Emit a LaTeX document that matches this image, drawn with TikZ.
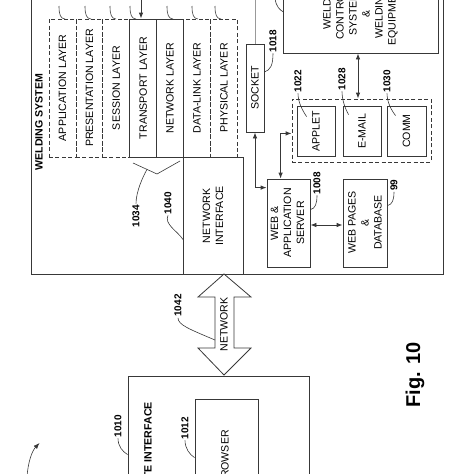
\documentclass[tikz,border=0pt]{standalone}
\usepackage{fontspec}
\setmainfont{Liberation Sans}
\usetikzlibrary{arrows.meta}
\begin{document}
\begin{tikzpicture}[x=1pt,y=-1pt,
  ln/.style={draw=black!78, line width=0.8pt},
  box/.style={ln, inner sep=0pt, minimum width=#1},
  dbox/.style={box=#1, dash pattern=on 4pt off 2.4pt},
  txt/.style={rotate=90, font=\fontsize{10.6}{13}\selectfont, align=center, inner sep=0pt},
  btxt/.style={rotate=90, font=\fontsize{10.6}{12}\selectfont\bfseries, inner sep=0pt},
  num/.style={rotate=90, font=\fontsize{10}{11}\selectfont\bfseries, inner sep=1pt},
  lead/.style={draw=black!78, line width=0.6pt},
  tip/.style={-{Latex[length=6pt,width=4.5pt]}},
  dbl/.style={ln, {Latex[length=6pt,width=4.5pt]}-{Latex[length=6pt,width=4.5pt]}}
]
\useasboundingbox (0,0) rectangle (474,474);
\clip (0,0) rectangle (474,474);

% welding system
\node[box=412pt, minimum height=314pt] (ws) at (237,117) {};
\node[btxt] (wst) at (39,122) {WELDING SYSTEM};

% layer stack
\node[dbox=26.9pt, minimum height=138pt] (l1) at (62.45,88) {};
\node[dbox=26.9pt, minimum height=138pt] (l2) at (89.35,88) {};
\node[dbox=26.9pt, minimum height=138pt] (l3) at (116.25,88) {};
\node[dbox=26.9pt, minimum height=138pt] (l6) at (196.95,88) {};
\node[dbox=26.9pt, minimum height=138pt] (l7) at (223.85,88) {};
\node[box=26.9pt, minimum height=138pt] (l4) at (143.15,88) {};
\node[box=26.9pt, minimum height=138pt] (l5) at (170.05,88) {};
\node[txt] (t1) at (l1.center) {APPLICATION LAYER};
\node[txt] (t2) at (l2.center) {PRESENTATION LAYER};
\node[txt] (t3) at (l3.center) {SESSION LAYER};
\node[txt] (t4) at (l4.center) {TRANSPORT LAYER};
\node[txt] (t5) at (l5.center) {NETWORK LAYER};
\node[txt] (t6) at (l6.center) {DATA-LINK LAYER};
\node[txt] (t7) at (l7.center) {PHYSICAL LAYER};

% leaders above layers
\foreach \b in {59,85,110,130,167,192,215}{
  \draw[lead] (\b,6) .. controls (\b,15) and (\b+1.5,18.5) .. (\b+6,19);
}
\coordinate (ta) at (141,-5);
\draw[ln, tip] (ta) -- (ta |- l4.north);

% bracket under transport/network
\coordinate (v1) at (133,163);
\coordinate (v2) at (157,174);
\coordinate (v3) at (180,161);
\coordinate (v4) at (147,169.4);
\draw[lead] (v1) -- (v2) -- (v3);
\node[num] (n1034) at (136,216) {1034};
\draw[lead] (n1034.east) .. controls +(0,-12) and +(-4,7) .. (v4);

% network interface
\node[box=59.5pt, minimum height=117pt] (ni) at (213.25,215.5) {};
\node[txt] (nit) at (213,216) {NETWORK\\INTERFACE};
\node[num] (n1040) at (168,203) {1040};
\draw[lead] (n1040.west) .. controls +(-4,9) and +(-6,-9) .. ([yshift=-83pt]ni.north west);

% socket
\node[box=18pt, minimum height=88pt] (sock) at (255,88) {};
\node[txt] (sockt) at (sock.center) {SOCKET};
\draw[draw=black!40, line width=0.5pt] (sock.north) -- ++(0,-50);
\node[num] (n1018) at (273,41) {1018};
\draw[lead] (n1018.west) .. controls +(0,12) and +(6,-2) .. ([yshift=16pt]sock.east);

% welding control system
\node[box=155pt, minimum height=93pt] (wc) at (360.5,6.5) {};
\node[txt] (wct) at (360.5,14) {WELD\\CONTROL\\SYSTEM\\\&\\WELDING\\EQUIPMENT};
\coordinate (wcl0) at (275,-2);
\coordinate (wcl) at (283.5,12);
\draw[lead] (wcl0) .. controls (276,7) and (280,10) .. (wcl);

% applet / e-mail / comm
\node[dbox=139pt, minimum height=63pt] (grp) at (361.5,130.5) {};
\node[box=38pt, minimum height=50pt] (applet) at (316,131) {};
\node[box=38pt, minimum height=50pt] (email) at (362,131) {};
\node[box=39pt, minimum height=50pt] (comm) at (406.5,131) {};
\node[txt] (appt) at (applet.center) {APPLET};
\node[txt] (emt) at (email.center) {E-MAIL};
\node[txt] (comt) at (comm.center) {COMM};
\node[num] (n1022) at (298,81) {1022};
\node[num] (n1028) at (342,79) {1028};
\node[num] (n1030) at (387,81) {1030};
\draw[lead] (n1022.west) .. controls +(0,9) and +(-4,-6) .. ([xshift=10pt,yshift=-11pt]applet.north west);
\draw[lead] (n1028.west) .. controls +(0,9) and +(-3,-5) .. ([xshift=6pt,yshift=-9pt]email.north west);
\draw[lead] (n1030.west) .. controls +(0,9) and +(-4,-5) .. ([xshift=9pt,yshift=-10pt]comm.north west);
\draw[dbl] ([xshift=-2.5pt]wc.south) -- ([xshift=-2.5pt]wc.south |- grp.north);

% server and database
\node[box=43pt, minimum height=88pt] (srv) at (288.5,223) {};
\node[txt] (srvt) at (287.5,223) {WEB \&\\APPLICATION\\SERVER};
\node[box=44pt, minimum height=88pt] (db) at (365,223) {};
\node[txt] (dbt) at (365,222.5) {WEB PAGES\\\&\\DATABASE};
\node[num] (n1008) at (317,183) {1008};
\node[num] (n99) at (394,185) {99};
\draw[lead] (n1008.west) .. controls +(0,8) and +(5,-1) .. ([yshift=-31pt]srv.north east);
\draw[lead] (n99.west) .. controls +(0,8) and +(5,-1) .. ([yshift=-27pt]db.north east);
\draw[dbl] ([yshift=-2pt]srv.east) -- ([yshift=-2pt]db.west);
\draw[dbl] (sock.south) |- ([yshift=-9pt]srv.north west);
\draw[dbl] ([xshift=14pt]srv.north west) |- ([yshift=29pt]grp.south west);

% network double arrow
\draw[ln] (224,274) -- (251,297) -- (234,297) -- (234,348) -- (251,348) -- (224,375)
  -- (198,348) -- (215,348) -- (215,297) -- (198,297) -- cycle;
\node[txt] (nett) at (224,324.5) {NETWORK};
\coordinate (nshaft) at (215,340);
\node[num] (n1042) at (178,305.5) {1042};
\draw[lead] (n1042.west) .. controls +(0,7) and +(-26,-11) .. (nshaft);

% remote interface
\node[box=181pt, minimum height=124pt] (ui) at (218.5,438) {};
\node[btxt, anchor=east] (uit) at (148,402) {REMOTE INTERFACE};
\node[box=63pt, minimum height=101pt] (br) at (226.5,449.5) {};
\node[txt, anchor=east] (brt) at (225,430) {BROWSER};
\node[num] (n1010) at (118,426) {1010};
\node[num] (n1012) at (185,428) {1012};
\draw[lead] (n1010.west) .. controls +(0,8) and +(-5,-3) .. ([yshift=-79pt]ui.north west);
\draw[lead] (n1012.west) .. controls +(0,8) and +(-5,-3) .. ([yshift=-59pt]br.north west);

% figure pointer and caption
\coordinate (fa0) at (27,477);
\coordinate (fa1) at (39.5,443);
\draw[lead, tip] (fa0) .. controls (28,462) and (32,451) .. (fa1);
\node[rotate=90, font=\fontsize{20}{22}\selectfont\bfseries, inner sep=0pt] (fig) at (415,375) {Fig. 10};
\end{tikzpicture}
\end{document}
